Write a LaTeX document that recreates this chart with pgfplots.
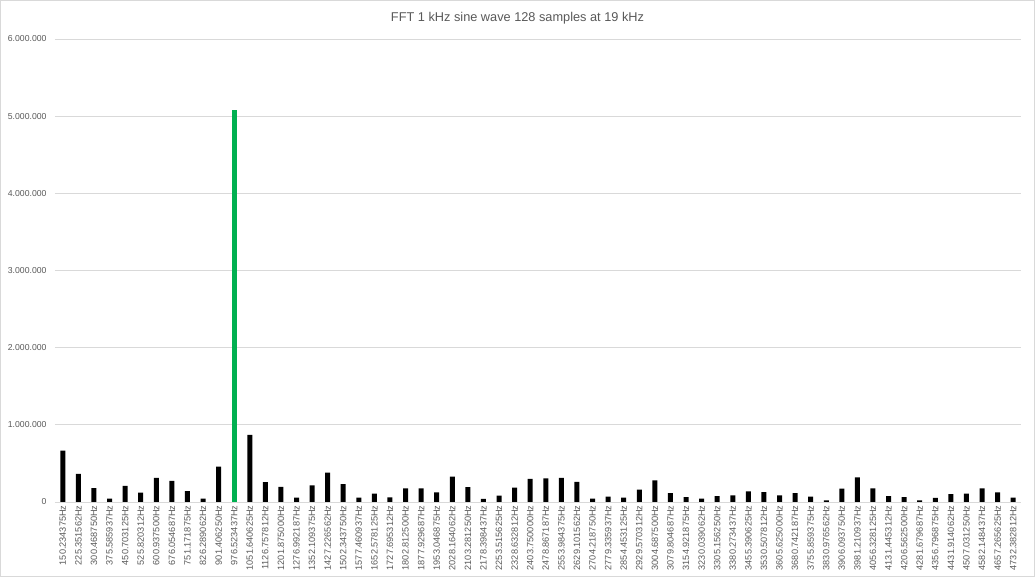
\documentclass[border=0pt]{standalone}
\usepackage{fontspec}
\setmainfont{Liberation Sans}
\usepackage{pgfplots}
\pgfplotsset{compat=1.18}
\definecolor{txt}{HTML}{595959}
\definecolor{grd}{HTML}{D9D9D9}
\definecolor{grn}{HTML}{00B050}
\begin{document}
\begin{tikzpicture}
\useasboundingbox (0,0) rectangle (1035bp,577bp);
\draw[grd, line width=0.75bp] (0.5bp,0.5bp) rectangle (1034.5bp,576.5bp);
\node[txt, font=\fontsize{12.8}{15}\selectfont] at (517.5bp,558.5bp) {FFT 1 kHz sine wave 128 samples at 19 kHz};
\begin{axis}[at={(55bp,75bp)}, anchor=south west, scale only axis,
  width=966bp, height=463bp,
  xmin=-0.5, xmax=61.5, ymin=0, ymax=6000000,
  ytick={0,1000000,2000000,3000000,4000000,5000000,6000000},
  scaled y ticks=false,
  yticklabel style={/pgf/number format/.cd, fixed, 1000 sep={.}, assume math mode=true, /tikz/.cd, xshift=-5bp, font=\fontsize{8.7}{10}\selectfont},
  ymajorgrids, major grid style={grd, line width=0.75bp},
  axis line style={draw=none},
  major tick length=0pt,
  tick label style={txt},
  xtick={0,...,61},
  xticklabel style={rotate=90, anchor=east, font=\fontsize{9.2}{10}\selectfont},
  xticklabels={150.234375Hz,225.351562Hz,300.468750Hz,375.585937Hz,450.703125Hz,525.820312Hz,600.937500Hz,676.054687Hz,751.171875Hz,826.289062Hz,901.406250Hz,976.523437Hz,1051.640625Hz,1126.757812Hz,1201.875000Hz,1276.992187Hz,1352.109375Hz,1427.226562Hz,1502.343750Hz,1577.460937Hz,1652.578125Hz,1727.695312Hz,1802.812500Hz,1877.929687Hz,1953.046875Hz,2028.164062Hz,2103.281250Hz,2178.398437Hz,2253.515625Hz,2328.632812Hz,2403.750000Hz,2478.867187Hz,2553.984375Hz,2629.101562Hz,2704.218750Hz,2779.335937Hz,2854.453125Hz,2929.570312Hz,3004.687500Hz,3079.804687Hz,3154.921875Hz,3230.039062Hz,3305.156250Hz,3380.273437Hz,3455.390625Hz,3530.507812Hz,3605.625000Hz,3680.742187Hz,3755.859375Hz,3830.976562Hz,3906.093750Hz,3981.210937Hz,4056.328125Hz,4131.445312Hz,4206.562500Hz,4281.679687Hz,4356.796875Hz,4431.914062Hz,4507.031250Hz,4582.148437Hz,4657.265625Hz,4732.382812Hz},
  ybar, bar width=5bp, bar shift=0pt,
]
\addplot[fill=black, draw=none] coordinates {
(0,665000) (1,365000) (2,180000) (3,43000) (4,210000) (5,120000) (6,313000) (7,275000) (8,142000) (9,43000) (10,459000)
(12,871000) (13,258000) (14,197000) (15,56000) (16,215000) (17,382000) (18,232000) (19,56000) (20,107000) (21,60000)
(22,176000) (23,176000) (24,124000) (25,330000) (26,193000) (27,39000) (28,82000) (29,185000) (30,300000) (31,305000)
(32,313000) (33,262000) (34,43000) (35,69000) (36,56000) (37,159000) (38,279000) (39,116000) (40,64000) (41,43000)
(42,77000) (43,86000) (44,137000) (45,129000) (46,86000) (47,116000) (48,69000) (49,21000) (50,172000) (51,318000)
(52,176000) (53,77000) (54,64000) (55,21000) (56,52000) (57,103000) (58,107000) (59,176000) (60,124000) (61,56000)
};
\addplot[fill=grn, draw=none] coordinates {(11,5086000)};
\end{axis}
\end{tikzpicture}
\end{document}
